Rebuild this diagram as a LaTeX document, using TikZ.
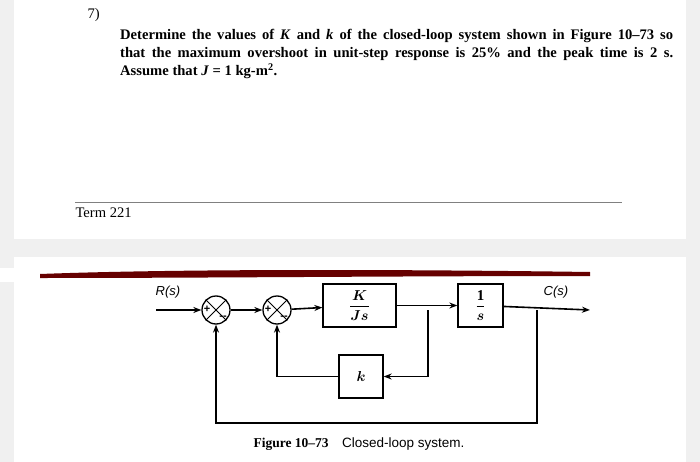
\documentclass[tikz,border=0pt]{standalone}
\usepackage{amsmath}
\usepackage{fontspec}
\setmainfont{Liberation Serif}
\newfontfamily\capfont{Liberation Sans}
\usetikzlibrary{arrows.meta,calc}
\begin{document}
\begin{tikzpicture}[x=1pt,y=-1pt,
  sig/.style={line width=1.6pt},
  arr/.style={sig,-{Stealth[length=8pt,width=6pt]}},
  blk/.style={draw,line width=1.3pt,minimum width=#1,minimum height=43pt,inner sep=0pt},
  sumc/.style={draw,line width=1.3pt,circle,minimum size=28pt,inner sep=0pt},
  sgn/.style={font=\capfont\bfseries\fontsize{11}{11}\selectfont,inner sep=0pt},
  lab/.style={font=\fontsize{15}{15}\selectfont},
  txt/.style={font=\fontsize{14.6}{18}\selectfont,anchor=west}]
\useasboundingbox (0,0) rectangle (700,462);
\fill[gray!12] (0,0) rectangle (700,462);
\fill[white] (14,0) rectangle (686,239);
\fill[white] (14,257) rectangle (686,462);
\fill[white] (0,268) rectangle (60,282);
\fill[red!40!black] (40,274) .. controls (200,268) and (450,270) .. (590,272) -- (590,276) .. controls (400,276) and (200,278) .. (40,278) -- cycle;
% text
\node[txt] (q) at (84,15) {7)};
\node[txt,anchor=north west,text width=553pt,align=justify,inner sep=0pt] (p) at (120,29)
 {\bfseries Determine the values of \textit{K} and \textit{k} of the closed-loop system shown in Figure 10--73 so that the maximum overshoot in unit-step response is 25\% and the peak time is 2~s.\linebreak Assume that \textit{J} = 1 kg-m\textsuperscript{2}.};
\draw[gray,line width=0.6pt] (75,202) -- (622,202);
\node[txt] (t) at (72,213) {Term 221};
% diagram
\node[sumc] (s1) at (216,310) {};
\node[sumc] (s2) at (277,310) {};
\draw[line width=1pt] (s1.45) -- (s1.225) (s1.135) -- (s1.315);
\draw[line width=1pt] (s2.45) -- (s2.225) (s2.135) -- (s2.315);
\node[sgn] (p1) at (207,309) {+};
\node[sgn] (p2) at (268,309) {+};
\node[sgn] (m1) at (223,318) {--};
\node[sgn] (m2) at (284,318) {--};
\node[blk=73pt,lab] (g1) at (359.5,305.5) {$\dfrac{\boldsymbol{K}}{\boldsymbol{Js}}$};
\node[blk=45pt,lab] (g2) at (480.5,305.5) {$\dfrac{\mathbf{1}}{\boldsymbol{s}}$};
\node[blk=44pt,lab] (g3) at (361,376.5) {$\boldsymbol{k}$};
\coordinate (in) at (156,310);
\coordinate (b1) at (428,310);
\coordinate (b2) at (537,310);
\coordinate (out) at (590,310);
\coordinate (d2) at (216,423);
\node[font=\capfont\itshape\fontsize{13}{13}\selectfont] (R) at (168,292) {R(s)};
\node[font=\capfont\itshape\fontsize{13}{13}\selectfont] (C) at (556,292) {C(s)};
\draw[arr] (in) -- (s1);
\draw[arr] (s1) -- (s2);
\draw[arr] (s2) -- (g1);
\draw[arr] (g1) -- (g2);
\draw[arr] (g2) -- (out);
\draw[arr] (b1) |- (g3);
\draw[arr] (g3) -| (s2);
\draw[arr] (b2) |- (d2) -- (s1);
\node[font=\fontsize{13.5}{15}\selectfont] (cap) at (359,444) {\textbf{Figure 10--73}\quad {\capfont Closed-loop system.}};
\end{tikzpicture}
\end{document}
